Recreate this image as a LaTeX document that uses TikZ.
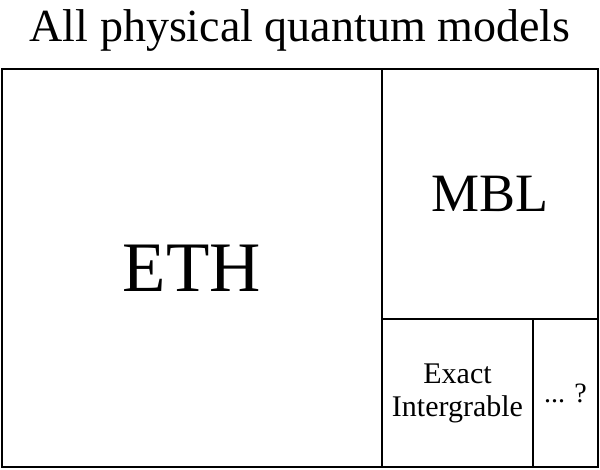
\documentclass[tikz,border=0pt]{standalone}
\usepackage{fontspec}
\setmainfont{Liberation Serif}
\usepackage{tikz}

\begin{document}
\begin{tikzpicture}[x=1pt, y=-1pt]
        \tikzstyle{region} = [draw, line width=1.5pt, rectangle, inner sep=0pt, align=center];
        \tikzstyle{big} = [font=\fontsize{71}{74}\selectfont];
        \tikzstyle{mid} = [font=\fontsize{54}{56}\selectfont];
        \tikzstyle{small} = [font=\fontsize{30}{33}\selectfont];

        \useasboundingbox (0,0) rectangle (600,469);

        \node [font=\fontsize{46}{50}\selectfont] (title) at (300,31) {All physical quantum models};
        \node [region, big, minimum width=380pt, minimum height=398pt] (eth) at (192,268) {ETH};
        \node [region, mid, minimum width=216pt, minimum height=250pt] (mbl) at (490,194) {MBL};
        \node [region, small, minimum width=151pt, minimum height=148pt] (exact) at (457.5,393) {Exact\\Intergrable};
        \node [region, small, font=\fontsize{28}{30}\selectfont, minimum width=65pt, minimum height=148pt] (other) at (565.5,393) {... ?};
\end{tikzpicture}
\end{document}
